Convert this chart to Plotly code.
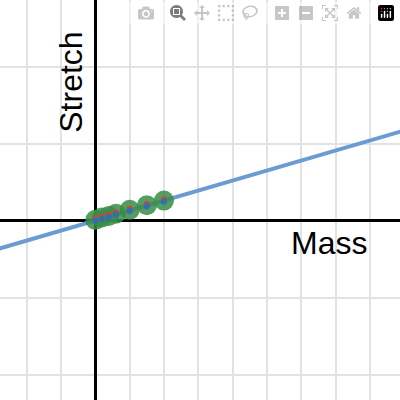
import plotly.graph_objects as go

mass = [0, 0.19, 0.39, 0.6, 1.0, 1.5, 2.0]
stretch = [0.01, 0.04, 0.06, 0.09, 0.14, 0.2, 0.26]
fit_x = [-3, 9]
slope = 0.13
fit_y = [slope * v for v in fit_x]

fig = go.Figure()
fig.add_trace(go.Scatter(x=fit_x, y=fit_y, mode="lines",
                         line=dict(color="#6b9bd0", width=4)))
fig.add_trace(go.Scatter(x=mass, y=stretch, mode="markers",
                         marker=dict(size=20, color="rgba(56,140,70,0.85)")))
fig.add_trace(go.Scatter(x=mass, y=[s + 0.015 for s in stretch], mode="markers",
                         marker=dict(size=6, color="#c74440")))
fig.add_trace(go.Scatter(x=mass, y=[s - 0.015 for s in stretch], mode="markers",
                         marker=dict(size=6, color="#2d70b3")))

fig.add_shape(type="line", x0=5, x1=5, y0=-3, y1=3, line=dict(color="#999", width=1.5), layer="below")
fig.add_annotation(x=-0.72, y=1.8, text="Stretch", textangle=-90, showarrow=False,
                   font=dict(size=32, color="black", family="Liberation Sans"))
fig.add_annotation(x=6.8, y=-0.29, text="Mass", showarrow=False,
                   font=dict(size=32, color="black", family="Liberation Sans"))

fig.update_layout(width=400, height=400, margin=dict(l=0, r=0, t=0, b=0),
                  plot_bgcolor="white", paper_bgcolor="white", showlegend=False)
fig.update_xaxes(range=[-2.78, 8.88], dtick=1, tick0=0, showgrid=True, gridcolor="#e2e2e2",
                 gridwidth=1.5, zeroline=True, zerolinecolor="black", zerolinewidth=2.5,
                 showticklabels=False, ticks="")
fig.update_yaxes(range=[-2.33, 2.866], dtick=1, tick0=0, showgrid=True, gridcolor="#e2e2e2",
                 gridwidth=1.5, zeroline=True, zerolinecolor="black", zerolinewidth=2.5,
                 showticklabels=False, ticks="")
fig.write_html("out.html")

with open("out.html", encoding="utf-8") as f:
    html = f.read()
html = html.replace("<body>", '<body style="margin:0;padding:0;overflow:hidden">', 1)
with open("out.html", "w", encoding="utf-8") as f:
    f.write(html)
